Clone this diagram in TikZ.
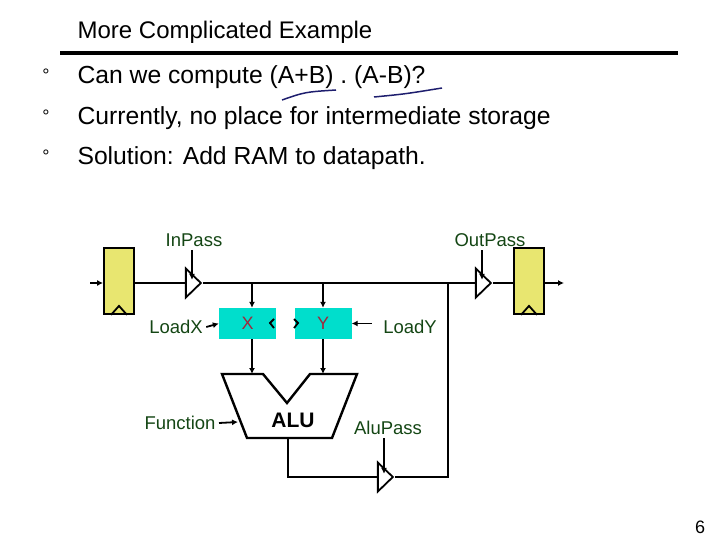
\documentclass[tikz,border=0pt]{standalone}
\usepackage{fontspec}
\setmainfont{Liberation Sans}
\usetikzlibrary{positioning,shapes.geometric,arrows.meta}
\definecolor{regyellow}{RGB}{232,230,112}
\definecolor{regcyan}{RGB}{0,222,204}
\definecolor{lblgreen}{RGB}{20,70,20}
\definecolor{xyred}{RGB}{160,40,60}
\definecolor{penblue}{RGB}{30,30,110}
\begin{document}
\begin{tikzpicture}[x=1pt,y=-1pt,
				      wire/.style={draw,line width=1.8pt,black,-},
				      arr/.style={wire,-{Latex[length=6pt,width=6pt]}},
				      reg/.style={draw,line width=1.8pt,fill=regyellow,minimum width=30pt,minimum height=66pt,inner sep=0pt},
				      xyreg/.style={fill=regcyan,minimum width=57pt,minimum height=31pt,inner sep=0pt,text=xyred,font=\fontsize{18}{20}\selectfont},
				      buf/.style={draw,line width=1.8pt,fill=white,isosceles triangle,isosceles triangle stretches,minimum height=15pt,minimum width=29pt,inner sep=0pt},
				      lbl/.style={text=lblgreen,font=\fontsize{18.5}{20}\selectfont},
				      every node/.style={align=center}]
			      \useasboundingbox (0,0) rectangle (720,540);
			      % title and bullets
			      \node (title) at (225,32) {\fontsize{24}{28}\selectfont More Complicated Example};
			      \draw[line width=4pt] (60,53) -- (678,53);
			      \foreach \yy/\txt [count=\i] in {77/{Can we compute (A+B) . (A-B)?},118/{Currently, no place for intermediate storage},158/{Solution: Add RAM to datapath.}}{
				      \node at (46,\yy-2) {\fontsize{18}{20}\selectfont °};
				      \node[anchor=west] (item\i) at (74,\yy) {\fontsize{24.7}{28}\selectfont \txt};
			      }
			      \draw[penblue,line width=1.5pt] (282,100) .. controls (305,92) .. (336,90);
			      \draw[penblue,line width=1.5pt] (374,97) .. controls (405,94) .. (442,88);
			      % registers and buffers
			      \node[reg] (regin) at (119,281) {};
			      \node[reg] (regout) at (529,281) {};
			      \foreach \r in {regin,regout}
				      \draw[line width=1.8pt] ([xshift=-8pt]\r.south) -- ([yshift=9pt]\r.south) -- ([xshift=8pt]\r.south);
			      \node[buf] (inbuf) at (192,283) {};
			      \node[buf] (outbuf) at (482,283) {};
			      \node[buf] (alubuf) at (384,477) {};
			      \node[xyreg] (regx) at (247.5,323.5) {X};
			      \node[xyreg] (regy) at (323,323.5) {Y};
			      \draw[line width=1.8pt] (274,319) -- (270,323) -- (274,328);
			      \draw[line width=1.8pt] (294,319) -- (298,323) -- (294,328);
			      % ALU
			      \coordinate (alutl) at (222,374);
			      \coordinate (alutr) at (357,374);
			      \coordinate (alua) at (252,374);
			      \coordinate (alub) at (323,374);
			      \draw[line width=2.4pt] (alutl) -- (263,374) -- (287,403) -- (310,374) -- (alutr) -- (332,438) -- (247,438) -- cycle;
			      \node[font=\fontsize{21}{24}\selectfont\bfseries] (alu) at (293,420) {ALU};
			      \coordinate (aluin) at (238,422);
			      \coordinate (aluout) at (288,438);
			      % labels
			      \node[lbl] (inpass) at (194,240) {InPass};
			      \node[lbl] (outpass) at (490,240) {OutPass};
			      \node[lbl] (loadx) at (176,327) {LoadX};
			      \node[lbl] (loady) at (410,327) {LoadY};
			      \node[lbl] (func) at (180,423) {Function};
			      \node[lbl] (alupass) at (388,428) {AluPass};
			      % bus
			      \coordinate (inend) at (90,283);
			      \coordinate (outend) at (564,283);
			      \coordinate (tapx) at (252,283);
			      \coordinate (tapy) at (323,283);
			      \coordinate (tapr) at (448,283);
			      \draw[arr] (inend) -- (regin.west |- inend);
			      \draw[wire] (regin.east |- inend) -- (inbuf.west);
			      \draw[wire] (inbuf.east) -- (outbuf.west);
			      \draw[wire] (outbuf.east) -- (regout.west |- outend);
			      \draw[arr] (regout.east |- outend) -- (outend);
			      \draw[arr] (tapx) -- (regx.north -| tapx);
			      \draw[arr] (tapy) -- (regy.north);
			      \draw[arr] (inpass.south -| inbuf.north) -- ([yshift=-7pt]inbuf.north);
			      \draw[arr] (outpass.south -| outbuf.north) -- ([yshift=-7pt]outbuf.north);
			      \draw[arr] (alupass.south -| alubuf.north) -- ([yshift=-7pt]alubuf.north);
			      \draw[arr] (loadx.east) -- (regx.west);
			      \draw[arr] ([xshift=20pt]regy.east) -- (regy.east);
			      \draw[arr] (func.east) -- (aluin);
			      \draw[arr] (regx.south -| alua) -- (alua);
			      \draw[arr] (regy.south) -- (alub);
			      \draw[wire] (aluout) |- (alubuf.west);
			      \draw[wire] (alubuf.east) -| (tapr);
			      % page number
			      \node (page) at (700,527) {\fontsize{18}{20}\selectfont 6};
		      \end{tikzpicture}
\end{document}
